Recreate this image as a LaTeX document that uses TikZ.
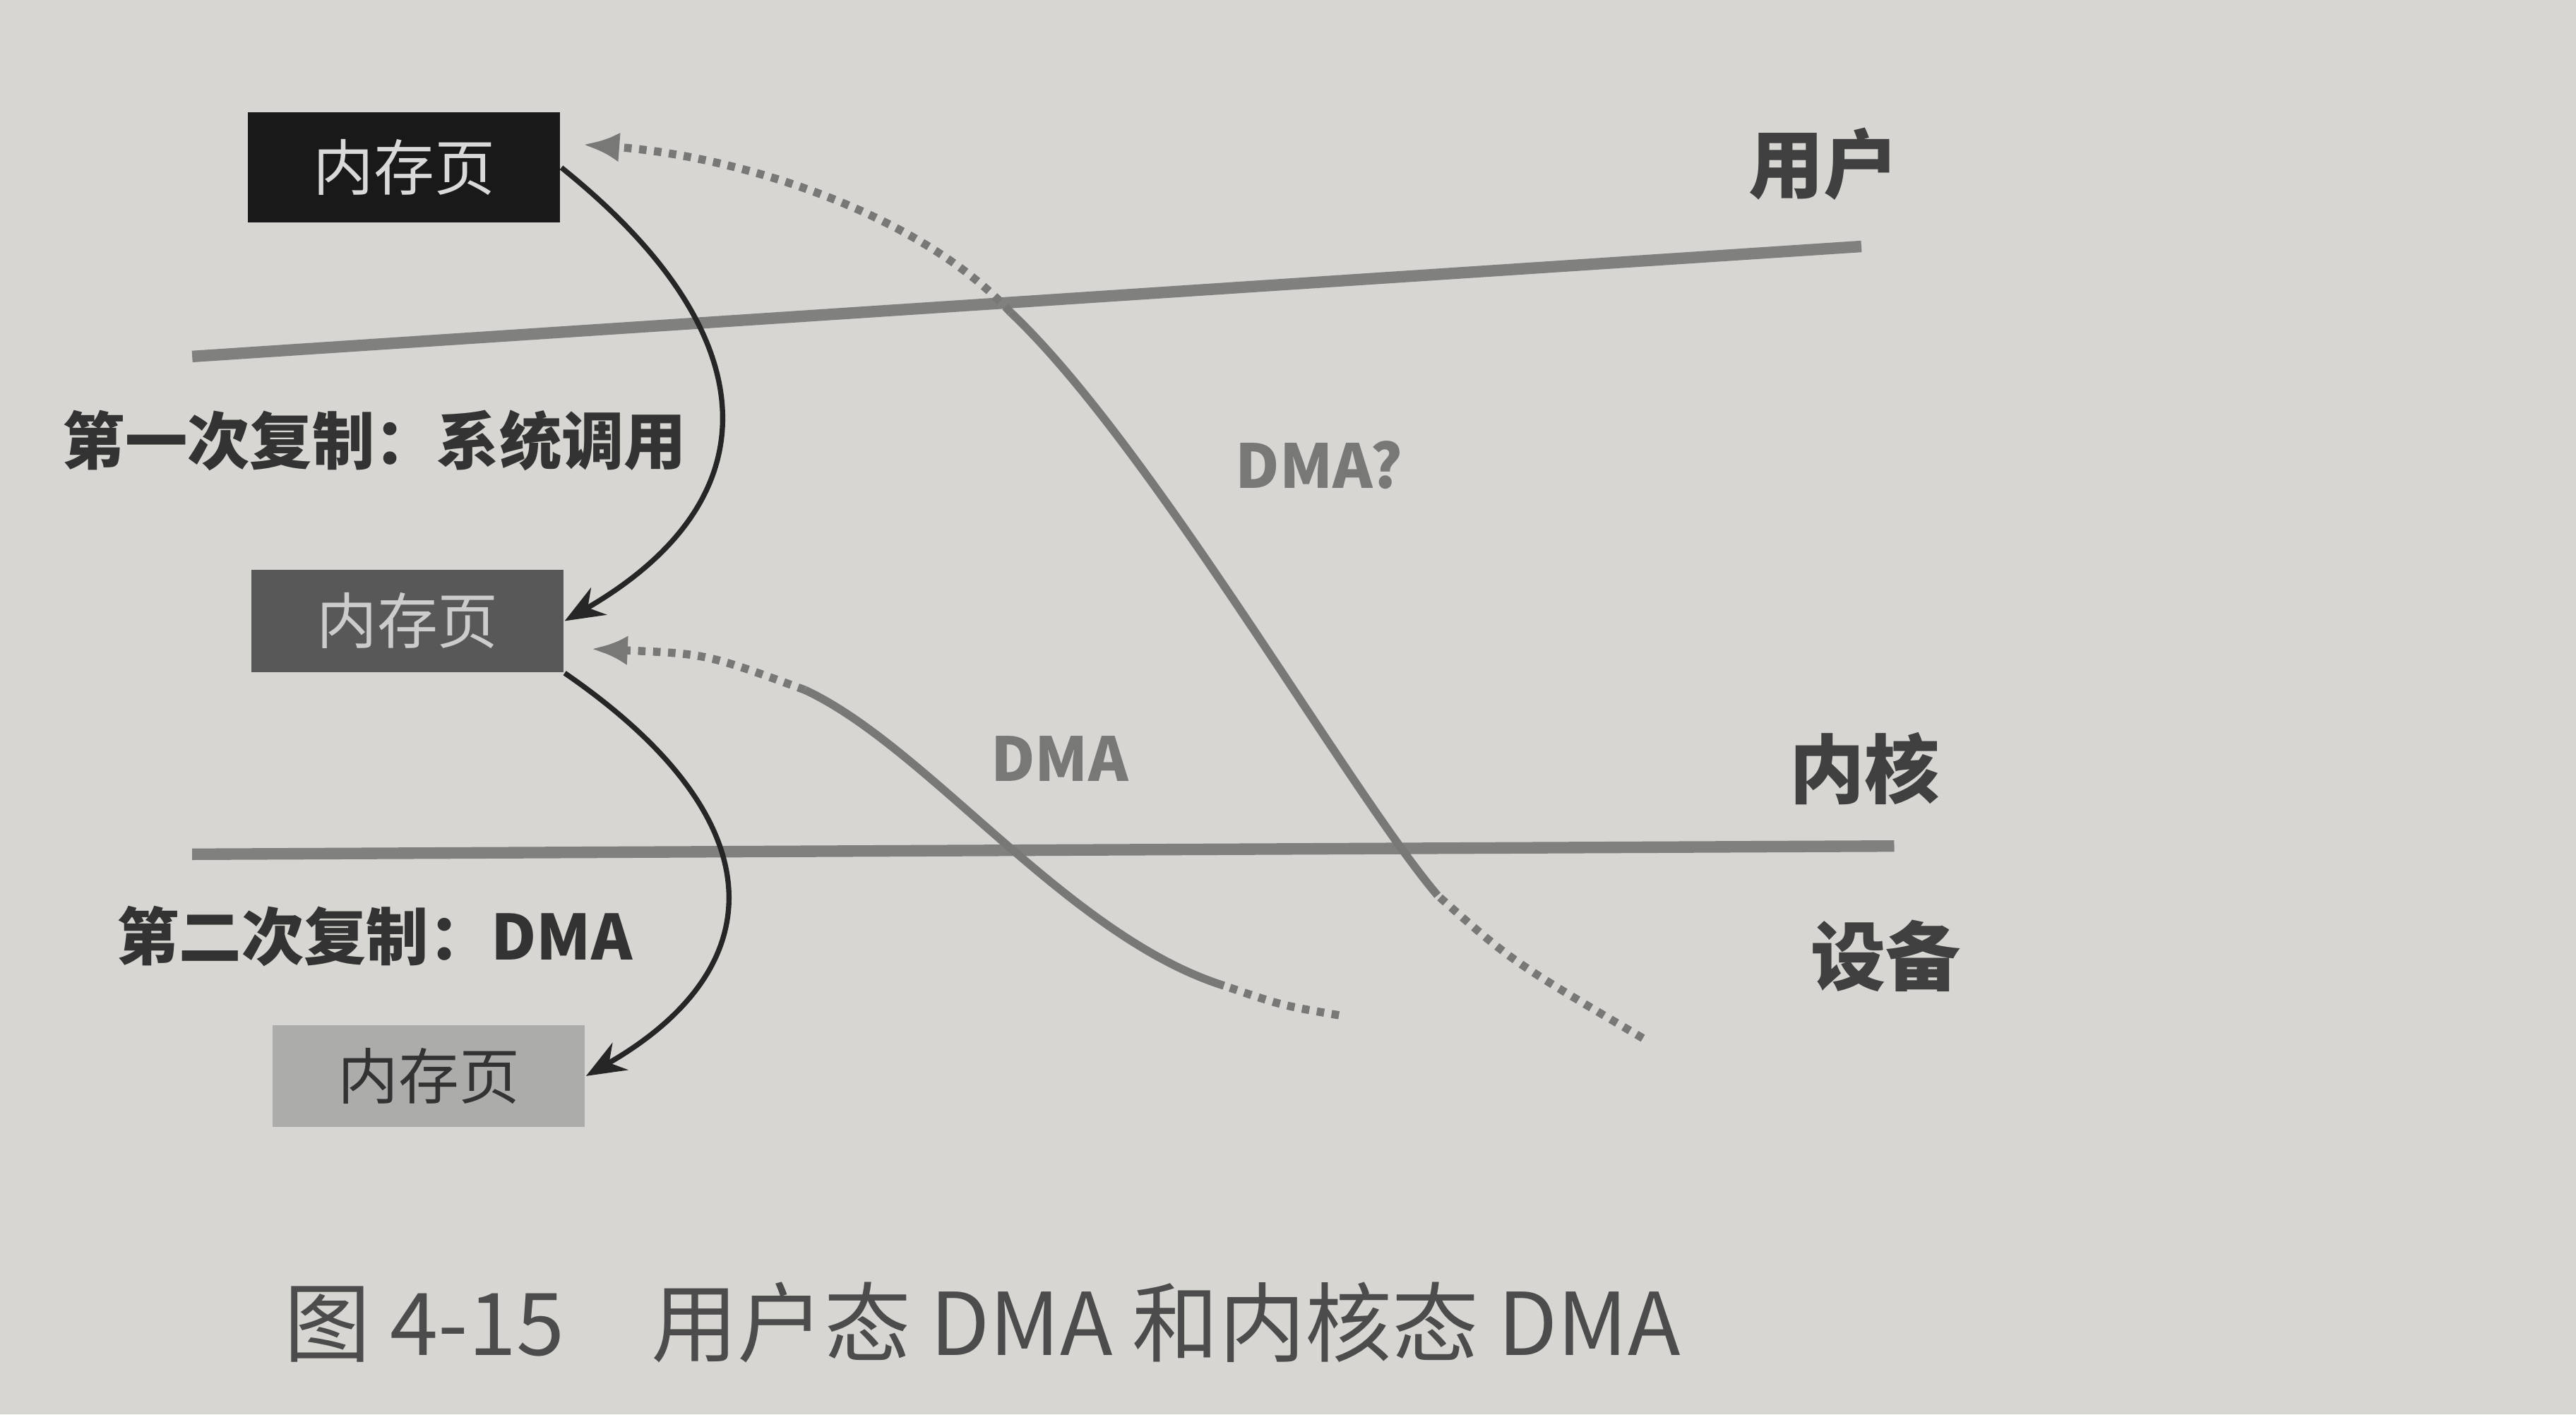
\documentclass[tikz,border=0pt]{standalone}
\usepackage{fontspec}
\setmainfont{Noto Sans CJK SC}
\usetikzlibrary{arrows.meta}
\definecolor{paper}{RGB}{216,214,210}
\definecolor{linegrey}{RGB}{128,128,126}
\definecolor{pagegrey}{RGB}{88,88,88}
\definecolor{pagelight}{RGB}{172,172,170}
\definecolor{dmagrey}{RGB}{120,120,118}
\begin{document}
\begin{tikzpicture}[x=0.1mm, y=-0.1mm,
    page/.style = {minimum width=19mm, minimum height=6.2mm, inner sep=0pt, font=\fontsize{10.5}{12}\selectfont},
    layer/.style = {draw=linegrey, line width=2pt},
    copyarc/.style = {draw=black!85, line width=0.9pt, -{Stealth[length=2.4mm, width=1.9mm]}},
    dmaline/.style = {draw=dmagrey, line width=1.4pt},
    dmadots/.style = {dmaline, dash pattern=on 1.3pt off 1.3pt},
    side/.style = {font=\fontsize{13}{15}\selectfont\bfseries, text=black!75},
    note/.style = {font=\fontsize{10.8}{13}\selectfont\bfseries, text=black!80},
    dmatag/.style = {font=\fontsize{10.5}{12}\selectfont\bfseries, text=dmagrey}]
\useasboundingbox[fill=paper] (0,0) rectangle (1568,861);

% pages
\node[page, fill=black!90, text=white!85!black, minimum height=6.7mm] (p1) at (246,102) {内存页};
\node[page, fill=pagegrey, text=white!80!black] (p2) at (248,378) {内存页};
\node[page, fill=pagelight, text=black!80] (p3) at (261,655) {内存页};

% layers
\coordinate (ul) at (117,217);
\coordinate (ur) at (1133,150);
\coordinate (kl) at (117,520);
\coordinate (kr) at (1153,515);
\draw[layer] (ul) -- (ur);
\draw[layer] (kl) -- (kr);
\node[side] (user) at (1110,100) {用户};
\node[side] (kernel) at (1135,468) {内核};
\node[side] (device) at (1148,582) {设备};

% copies
\node[note] (first) at (228,268) {第一次复制：系统调用};
\node[note] (second) at (228,570) {第二次复制：DMA};
\draw[copyarc] (p1.east) .. controls (470,205) and (470,305) .. (p2.east);
\draw[copyarc] (p2.south east) .. controls (475,500) and (470,590) .. (p3.east);

% DMA from the user side
\coordinate (u0) at (1000,632);
\coordinate (u1) at (875,545);
\coordinate (u2) at (615,190);
\coordinate (u3) at (355,88);
\draw[dmadots] (u0) .. controls (920,585) .. (u1);
\draw[dmaline] (u1) .. controls (820,480) and (700,270) .. (u2);
\draw[dmadots, -{Latex[length=2.2mm, width=1.8mm]}] (u2) .. controls (560,130) and (450,95) .. (u3);
\node[dmatag] (dmaq) at (803,283) {DMA?};

% DMA from the kernel side
\coordinate (k0) at (815,618);
\coordinate (k1) at (745,600);
\coordinate (k2) at (490,420);
\coordinate (k3) at (360,395);
\draw[dmadots] (k0) .. controls (780,612) .. (k1);
\draw[dmaline] (k1) .. controls (650,570) and (565,455) .. (k2);
\draw[dmadots, -{Latex[length=2.2mm, width=1.8mm]}] (k2) .. controls (430,398) .. (k3);
\node[dmatag] (dma) at (645,462) {DMA};

% caption
\node[font=\fontsize{15}{18}\selectfont, text=black!70] (caption) at (598,805) {图 4-15\quad 用户态 DMA 和内核态 DMA};
\end{tikzpicture}
\end{document}
